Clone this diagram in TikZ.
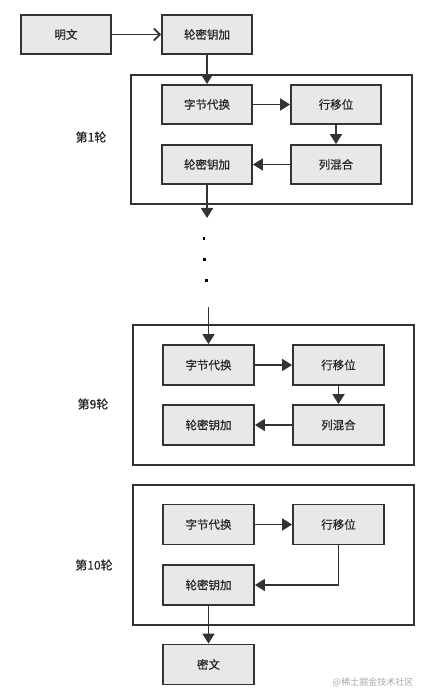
\documentclass[tikz,border=0pt]{standalone}
\usepackage{fontspec}
\newfontfamily\cjk[FakeBold=0.5]{Noto Sans CJK SC}
\newfontfamily\cjkwm{Noto Sans CJK SC}
\usetikzlibrary{arrows.meta}
\definecolor{linec}{HTML}{333333}
\definecolor{boxfill}{HTML}{E8E8E8}
\definecolor{wm}{HTML}{A8A8A8}
\begin{document}
\begin{tikzpicture}[x=1pt,y=-1pt,
  stepbox/.style={draw=linec, fill=boxfill, line width=1.8pt, minimum width=90pt, minimum height=39pt, inner sep=0pt, font=\cjk\fontsize{11.5}{13}\selectfont, text=black!85},
  roundframe/.style={draw=linec, line width=1.8pt, inner sep=0pt},
  roundlabel/.style={font=\cjk\fontsize{12}{14}\selectfont, text=black!85},
  conn/.style={draw=linec, line width=1.8pt, -{Triangle[length=10pt,width=12pt]}},
  openconn/.style={draw=linec, line width=1.8pt, -{Straight Barb[length=6pt,width=12pt,line width=1.8pt]}},
  dotmark/.style={fill=black, inner sep=0pt, minimum size=2.6pt, draw=none}]
\useasboundingbox (0,0) rectangle (428,700);
% frames
\node[roundframe, minimum width=281pt, minimum height=129pt] (f1) at (271.5,139.5) {};
\node[roundframe, minimum width=281pt, minimum height=140pt] (f9) at (273.5,395) {};
\node[roundframe, minimum width=281pt, minimum height=140pt] (f10) at (273.5,555) {};
% top
\node[stepbox] (pt) at (66,34.5) {明文};
\node[stepbox] (ark0) at (207,34.5) {轮密钥加};
% round 1
\node[stepbox] (sb1) at (207,104.5) {字节代换};
\node[stepbox] (sr1) at (336,104.5) {行移位};
\node[stepbox] (mc1) at (336,164.5) {列混合};
\node[stepbox] (ark1) at (207,164.5) {轮密钥加};
\node[roundlabel] (l1) at (91,137) {第1轮};
\coordinate (e1) at (207,218);
% dots
\node[dotmark] (d1) at (204,238.5) {};
\node[dotmark] (d2) at (204.5,259.5) {};
\node[dotmark] (d3) at (206.5,280.5) {};
\coordinate (s9) at (208.5,307);
% round 9
\node[stepbox, minimum width=91pt, minimum height=40pt] (sb9) at (208.5,365) {字节代换};
\node[stepbox, minimum width=91pt, minimum height=40pt] (sr9) at (338.5,365) {行移位};
\node[stepbox, minimum width=91pt, minimum height=40pt] (mc9) at (338.5,425) {列混合};
\node[stepbox, minimum width=91pt, minimum height=40pt] (ark9) at (208.5,425) {轮密钥加};
\node[roundlabel] (l9) at (93,404) {第9轮};
% round 10
\node[stepbox, minimum width=91pt, minimum height=40pt] (sb10) at (208.5,524.5) {字节代换};
\node[stepbox, minimum width=91pt, minimum height=40pt] (sr10) at (338.5,524.5) {行移位};
\node[stepbox, minimum width=91pt, minimum height=40pt] (ark10) at (208.5,585) {轮密钥加};
\node[roundlabel] (l10) at (94,565) {第10轮};
\node[stepbox, minimum width=91pt, minimum height=40pt] (ct) at (208.5,664.5) {密文};
% watermark
\node[font=\cjkwm\fontsize{9}{10}\selectfont, text=wm] (wmk) at (373,682) {@稀土掘金技术社区};
% connectors
\draw[openconn] (pt) -- (ark0);
\draw[conn] (ark0) -- (sb1);
\draw[conn] (sb1) -- (sr1);
\draw[conn] (sr1) -- (mc1);
\draw[conn] (mc1) -- (ark1);
\draw[conn] (ark1) -- (e1);
\draw[conn] (s9) -- (sb9);
\draw[conn] (sb9) -- (sr9);
\draw[conn] (sr9) -- (mc9);
\draw[conn] (mc9) -- (ark9);
\draw[conn] (sb10) -- (sr10);
\draw[conn] (sr10.south) |- (ark10.east);
\draw[conn] (ark10) -- (ct);
\end{tikzpicture}
\end{document}
